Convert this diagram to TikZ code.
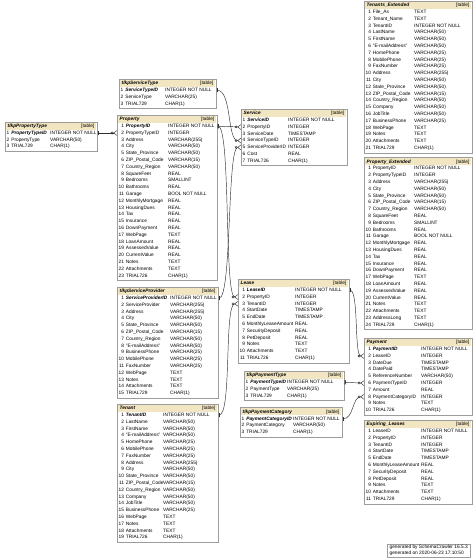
\documentclass[tikz,border=0pt]{standalone}
\usepackage{fontspec}
\setmainfont{Liberation Sans}
\usetikzlibrary{arrows.meta}
\definecolor{headtan}{HTML}{F2E6C2}
\definecolor{framegray}{HTML}{9C9C9C}
\definecolor{linkgray}{HTML}{303030}
\newcommand{\tblsize}{\fontsize{4.8}{5.6}\selectfont}
\newcommand{\pkey}[1]{\textbf{\textit{#1}}}
\tikzset{
  tblhead/.style={fill=headtan, minimum height=7, inner sep=0pt, outer sep=0pt},
  tbltitle/.style={anchor=west, inner sep=0pt, font=\tblsize\bfseries\itshape,
    text height=3.4pt, text depth=0.9pt},
  tbltag/.style={anchor=east, inner sep=0pt, font=\tblsize,
    text height=3.4pt, text depth=0.9pt},
  rowcell/.style={minimum height=6.8, inner sep=0pt, outer sep=0pt},
  colnum/.style={anchor=east, inner sep=0pt, font=\tblsize,
    text height=3.4pt, text depth=0.9pt},
  colname/.style={anchor=west, inner sep=0pt, font=\tblsize,
    text height=3.4pt, text depth=0.9pt},
  coltype/.style={anchor=west, inner sep=0pt, font=\tblsize,
    text height=3.4pt, text depth=0.9pt},
  tblframe/.style={draw=framegray, line width=0.45pt},
  footbox/.style={draw=framegray, line width=0.45pt, align=left,
    inner xsep=2pt, inner ysep=1.2pt, font=\tblsize},
  fklink/.style={
    draw=linkgray, line width=0.45pt,
    {Bar[width=4.4pt,line width=0.6pt,sep=0.6pt]Bar[width=4.4pt,line width=0.6pt]}-{Circle[open,length=2.6pt,line width=0.45pt]Straight Barb[reversed,length=3pt,width=4.8pt,line width=0.45pt]}
  }
}
% #1 name, #2 title, #3 left, #4 top, #5 width, #6 columns,
% #7 right edge of the number column, #8 start of the type column
\newcommand{\dbtable}[8]{%
  \node[tblhead, minimum width=#5-1.6, anchor=north west] (#1-head) at ({#3+0.8},{#4+0.8}) {};
  \node[tbltitle] (#1) at ([xshift=1.7pt]#1-head.west) {#2};
  \node[tbltag] (#1-tag) at ([xshift=-1.7pt]#1-head.east) {[table]};
  \foreach \col/\typ [count=\k] in {#6} {
    \node[rowcell, minimum width=#5] (#1-\k) at ({#3+#5/2},{#4+4.4+6.8*\k}) {};
    \node[colnum] (#1-\k-n) at ([xshift=#7]#1-\k.west) {\k};
    \node[colname] (#1-\k-c) at ([xshift=#7+1.5]#1-\k.west) {\col};
    \node[coltype] (#1-\k-t) at ([xshift=#8]#1-\k.west) {\typ};
    \xdef\lastrow{\k}
  }
  \draw[tblframe] (#3,#4) rectangle ([yshift=-1.2pt]#1-\lastrow.south east);
}

\begin{document}
\begin{tikzpicture}[x=1pt, y=-1pt]
\fill[white] (0,0) rectangle (474,559);
\useasboundingbox (0,0) rectangle (474,559);

% lookup tables and main tables
\dbtable{tpt}{tlkpPropertyType}{5}{121.8}{92}{%
  \pkey{PropertyTypeID}/INTEGER NOT NULL, PropertyType/VARCHAR(50), TRIAL729/CHAR(1)}{4.6}{45}
\dbtable{tst}{tlkpServiceType}{119}{79}{97}{%
  \pkey{ServiceTypeID}/INTEGER NOT NULL, ServiceType/VARCHAR(25), TRIAL729/CHAR(1)}{4.6}{46}
\dbtable{prop}{Property}{117}{115}{100}{%
  \pkey{PropertyID}/INTEGER NOT NULL, PropertyTypeID/INTEGER, Address/VARCHAR(255),
  City/VARCHAR(50), State\_Province/VARCHAR(50), ZIP\_Postal\_Code/VARCHAR(15),
  Country\_Region/VARCHAR(50), SquareFeet/REAL, Bedrooms/SMALLINT, Bathrooms/REAL,
  Garage/BOOL NOT NULL, MonthlyMortgage/REAL, HousingDues/REAL, Tax/REAL,
  Insurance/REAL, DownPayment/REAL, WebPage/TEXT, LoanAmount/REAL,
  AssessedValue/REAL, CurrentValue/REAL, Notes/TEXT, Attachments/TEXT,
  TRIAL726/CHAR(1)}{7.2}{51}
\dbtable{serv}{Service}{241}{109}{106}{%
  \pkey{ServiceID}/INTEGER NOT NULL, PropertyID/INTEGER, ServiceDate/TIMESTAMP,
  ServiceTypeID/INTEGER, ServiceProviderID/INTEGER, Cost/REAL,
  TRIAL726/CHAR(1)}{4.6}{47}
\dbtable{tsp}{tlkpServiceProvider}{117}{287}{101}{%
  \pkey{ServiceProviderID}/INTEGER NOT NULL, ServiceProvider/VARCHAR(255),
  Address/VARCHAR(255), City/VARCHAR(50), State\_Province/VARCHAR(50),
  ZIP\_Postal\_Code/VARCHAR(15), Country\_Region/VARCHAR(50),
  "E-mailAddress"/VARCHAR(50), BusinessPhone/VARCHAR(25), MobilePhone/VARCHAR(25),
  FaxNumber/VARCHAR(25), WebPage/TEXT, Notes/TEXT, Attachments/TEXT,
  TRIAL729/CHAR(1)}{7.2}{53}
\dbtable{ten}{Tenant}{117}{404}{101}{%
  \pkey{TenantID}/INTEGER NOT NULL, LastName/VARCHAR(50), FirstName/VARCHAR(50),
  "E-mailAddress"/VARCHAR(50), HomePhone/VARCHAR(25), MobilePhone/VARCHAR(25),
  FaxNumber/VARCHAR(25), Address/VARCHAR(255), City/VARCHAR(50),
  State\_Province/VARCHAR(50), ZIP\_Postal\_Code/VARCHAR(15),
  Country\_Region/VARCHAR(50), Company/VARCHAR(50), JobTitle/VARCHAR(50),
  BusinessPhone/VARCHAR(25), WebPage/TEXT, Notes/TEXT, Attachments/TEXT,
  TRIAL726/CHAR(1)}{7.2}{46}
\dbtable{lease}{Lease}{238}{279}{111}{%
  \pkey{LeaseID}/INTEGER NOT NULL, PropertyID/INTEGER, TenantID/INTEGER,
  StartDate/TIMESTAMP, EndDate/TIMESTAMP, MonthlyLeaseAmount/REAL,
  SecurityDeposit/REAL, PetDeposit/REAL, Notes/TEXT, Attachments/TEXT,
  TRIAL726/CHAR(1)}{7.2}{57}
\dbtable{tpay}{tlkpPaymentType}{244}{371}{100}{%
  \pkey{PaymentTypeID}/INTEGER NOT NULL, PaymentType/VARCHAR(25),
  TRIAL729/CHAR(1)}{4.6}{43}
\dbtable{tcat}{tlkpPaymentCategory}{240}{407.6}{102}{%
  \pkey{PaymentCategoryID}/INTEGER NOT NULL, PaymentCategory/VARCHAR(50),
  TRIAL729/CHAR(1)}{4.6}{53}

% right column
\dbtable{tenx}{Tenants\_Extended}{364}{1}{108}{%
  File\_As/TEXT, Tenant\_Name/TEXT, TenantID/INTEGER NOT NULL, LastName/VARCHAR(50),
  FirstName/VARCHAR(50), "E-mailAddress"/VARCHAR(50), HomePhone/VARCHAR(25),
  MobilePhone/VARCHAR(25), FaxNumber/VARCHAR(25), Address/VARCHAR(255),
  City/VARCHAR(50), State\_Province/VARCHAR(50), ZIP\_Postal\_Code/VARCHAR(15),
  Country\_Region/VARCHAR(50), Company/VARCHAR(50), JobTitle/VARCHAR(50),
  BusinessPhone/VARCHAR(25), WebPage/TEXT, Notes/TEXT, Attachments/TEXT,
  TRIAL729/CHAR(1)}{7.2}{50}
\dbtable{propx}{Property\_Extended}{364}{157.5}{108}{%
  PropertyID/INTEGER NOT NULL, PropertyTypeID/INTEGER, Address/VARCHAR(255),
  City/VARCHAR(50), State\_Province/VARCHAR(50), ZIP\_Postal\_Code/VARCHAR(15),
  Country\_Region/VARCHAR(50), SquareFeet/REAL, Bedrooms/SMALLINT, Bathrooms/REAL,
  Garage/BOOL NOT NULL, MonthlyMortgage/REAL, HousingDues/REAL, Tax/REAL,
  Insurance/REAL, DownPayment/REAL, WebPage/TEXT, LoanAmount/REAL,
  AssessedValue/REAL, CurrentValue/REAL, Notes/TEXT, Attachments/TEXT,
  AddressLong/TEXT, TRIAL729/CHAR(1)}{7.2}{50}
\dbtable{pay}{Payment}{364}{338}{108}{%
  \pkey{PaymentID}/INTEGER NOT NULL, LeaseID/INTEGER, DateDue/TIMESTAMP,
  DatePaid/TIMESTAMP, ReferenceNumber/VARCHAR(50), PaymentTypeID/INTEGER,
  Amount/REAL, PaymentCategoryID/INTEGER, Notes/TEXT, TRIAL726/CHAR(1)}{7.2}{57}
\dbtable{expl}{Expiring\_Leases}{364}{420}{108}{%
  LeaseID/INTEGER NOT NULL, PropertyID/INTEGER, TenantID/INTEGER,
  StartDate/TIMESTAMP, EndDate/TIMESTAMP, MonthlyLeaseAmount/REAL,
  SecurityDeposit/REAL, PetDeposit/REAL, Notes/TEXT, Attachments/TEXT,
  TRIAL729/CHAR(1)}{7.2}{57}

\node[footbox, anchor=south east] (foot) at (470,557)
  {generated by SchemaCrawler 16.5.3\\generated on 2020-06-23 17:10:50};

% foreign keys
\draw[fklink] (tpt-1.east) -- (prop-2.west);
\draw[fklink] (tst-1.east) .. controls +(16,0) and +(-14,0) .. (serv-4.west);
\draw[fklink] (prop-1.east) -- (serv-2.west);
\draw[fklink] (prop-1.east) .. controls +(14,0) and +(-14,0) .. (lease-2.west);
\draw[fklink] (tsp-1.east) .. controls +(14,0) and +(-14,0) .. (serv-5.west);
\draw[fklink] (ten-1.east) .. controls +(14,0) and +(-14,0) .. (lease-3.west);
\draw[fklink] (lease-1.east) .. controls +(10,0) and +(-10,0) .. (pay-2.west);
\draw[fklink] (tpay-1.east) -- (pay-6.west);
\draw[fklink] (tcat-1.east) .. controls +(12,0) and +(-12,0) .. (pay-8.west);
\end{tikzpicture}
\end{document}
